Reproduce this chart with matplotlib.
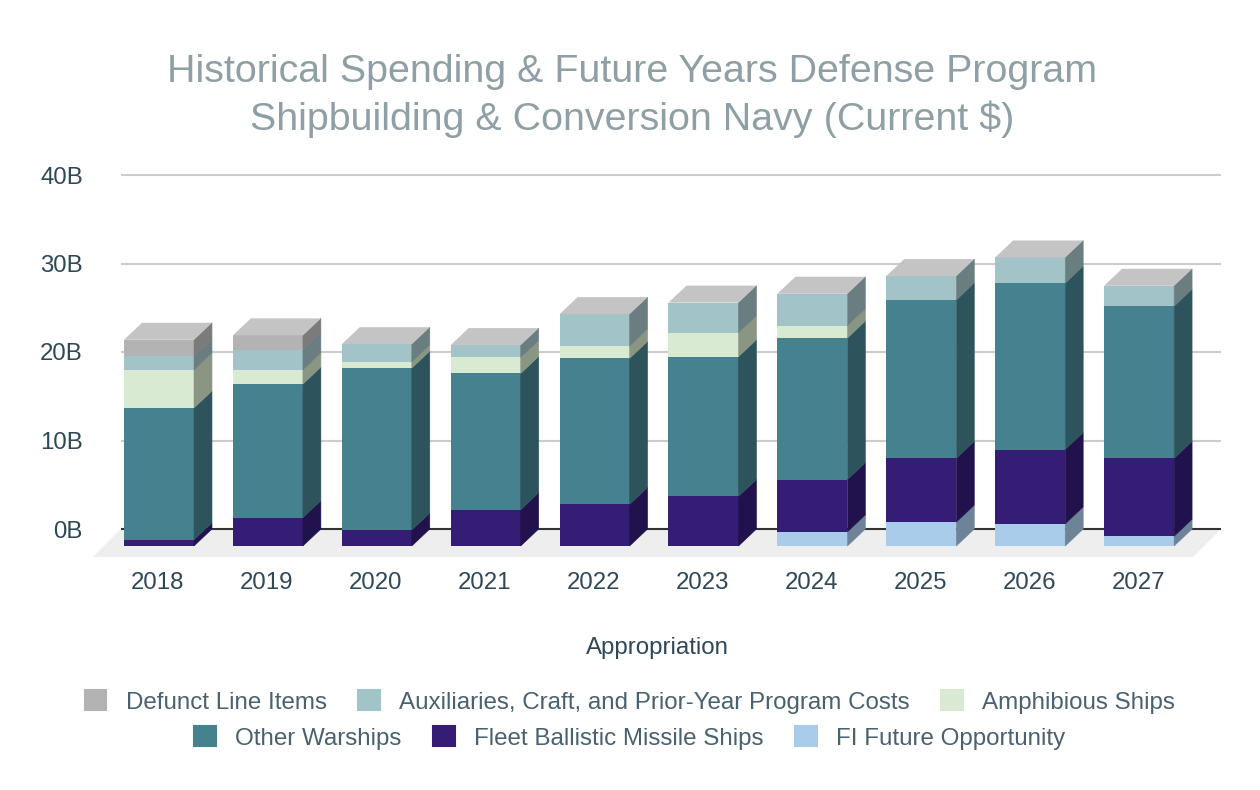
import numpy as np
import matplotlib
matplotlib.use('Agg')
import matplotlib.pyplot as plt
from matplotlib.patches import Patch

plt.rcParams['font.family'] = ['Liberation Sans', 'DejaVu Sans']

years = ['2018', '2019', '2020', '2021', '2022', '2023', '2024', '2025', '2026', '2027']

future_opportunity = [0, 0, 0, 0, 0, 0, 1.6, 2.7, 2.5, 1.1]
ballistic = [0.7, 3.2, 1.8, 4.1, 4.7, 5.6, 5.9, 7.2, 8.4, 8.8]
warships = [14.9, 15.1, 18.3, 15.4, 16.5, 15.8, 16.0, 17.9, 18.8, 17.2]
amphibious = [4.3, 1.6, 0.7, 1.8, 1.4, 2.7, 1.4, 0, 0, 0]
auxiliaries = [1.6, 2.3, 2.0, 1.4, 3.6, 3.4, 3.6, 2.7, 2.9, 2.3]
defunct = [1.8, 1.6, 0, 0, 0, 0, 0, 0, 0, 0]

y_ticks = [0, 10, 20, 30, 40]
y_tick_labels = ['0B', '10B', '20B', '30B', '40B']

# bottom to top: name, values, front colour, side colour
series = [
    ('FI Future Opportunity', future_opportunity, '#a9cceb', '#6c8398'),
    ('Fleet Ballistic Missile Ships', ballistic, '#351c75', '#21124d'),
    ('Other Warships', warships, '#45818e', '#2d545d'),
    ('Amphibious Ships', amphibious, '#d9ead3', '#8a9683'),
    ('Auxiliaries, Craft, and Prior-Year Program Costs', auxiliaries, '#a2c4c9', '#6a7e82'),
    ('Defunct Line Items', defunct, '#b3b3b3', '#7b7b7b'),
]

TITLE_COLOR = '#8f9fa6'
TEXT_COLOR = '#2f4858'
LEGEND_COLOR = '#4a6170'
TOP_COLOR = '#c4c4c4'
FONT_SIZE = 17.3

fig = plt.figure(figsize=(12.6, 7.9), dpi=100)
ax = fig.add_axes([121 / 1260, 261 / 790, 1100 / 1260, 354 / 790])
ax.set_xlim(-0.349, 9.752)
ax.set_ylim(0, 40)

# fake 3d depth, in data units
bar_w = 0.643
dx = 0.165
dy = 1.92
floor_dx = 0.257
floor_dy = 3.16

ax.fill([-0.349, 9.752, 9.752 - floor_dx, -0.349 - floor_dx], [0, 0, -floor_dy, -floor_dy],
        color='#eeeeee', lw=0, clip_on=False, zorder=1)
for t in y_ticks[1:]:
    ax.axhline(t, color='#cccccc', lw=1.5, zorder=2, clip_on=False, solid_capstyle='butt')
ax.axhline(0, color='#333333', lw=1.5, zorder=2, clip_on=False, solid_capstyle='butt')

x = np.arange(len(years))
bottoms = np.full(len(years), -dy)
for name, vals, front, side in series:
    vals = np.array(vals, dtype=float)
    ax.bar(x, vals, bar_w, bottom=bottoms, color=front, lw=0, zorder=3, clip_on=False)
    for xi, b, v in zip(x, bottoms, vals):
        if v == 0:
            continue
        r = xi + bar_w / 2
        ax.fill([r, r + dx, r + dx, r], [b, b + dy, b + v + dy, b + v],
                color=side, lw=0.4, zorder=3, clip_on=False)
    bottoms = bottoms + vals

# top face of each stack is the same grey whatever the top segment is
for xi, t in zip(x, bottoms):
    l, r = xi - bar_w / 2, xi + bar_w / 2
    ax.fill([l, r, r + dx, l + dx], [t, t, t + dy, t + dy], color=TOP_COLOR, lw=0, zorder=4, clip_on=False)

for s in ax.spines.values():
    s.set_visible(False)
ax.set_xticks(x - 0.01, years)
ax.set_yticks(y_ticks, y_tick_labels)
ax.tick_params(axis='both', length=0, labelsize=FONT_SIZE, labelcolor=TEXT_COLOR)
ax.tick_params(axis='x', pad=31)
ax.tick_params(axis='y', pad=27.5)

fig.text(632 / 1260, 1 - 96 / 790, 'Historical Spending & Future Years Defense Program\nShipbuilding & Conversion Navy (Current $)',
         ha='center', va='center', fontsize=28.4, color=TITLE_COLOR, linespacing=1.33)
fig.text(657 / 1260, 1 - 648 / 790, 'Appropriation', ha='center', va='center', fontsize=FONT_SIZE, color=TEXT_COLOR)

# legend is two centred rows, top row lists the upper segments
by_name = {s[0]: s[2] for s in series}
rows = [
    (['Defunct Line Items', 'Auxiliaries, Craft, and Prior-Year Program Costs', 'Amphibious Ships'], 702),
    (['Other Warships', 'Fleet Ballistic Missile Ships', 'FI Future Opportunity'], 738),
]
for names, ypx in rows:
    handles = [Patch(facecolor=by_name[n], edgecolor=by_name[n], lw=1.5, joinstyle='round', label=n) for n in names]
    fig.legend(handles=handles, loc='center', bbox_to_anchor=(630 / 1260, 1 - ypx / 790), ncol=3, frameon=False,
               fontsize=17.4, labelcolor=LEGEND_COLOR, handlelength=0.9, handleheight=0.9,
               handletextpad=0.8, columnspacing=1.3, borderpad=0, borderaxespad=0)

fig.savefig('out.png', dpi=100)
